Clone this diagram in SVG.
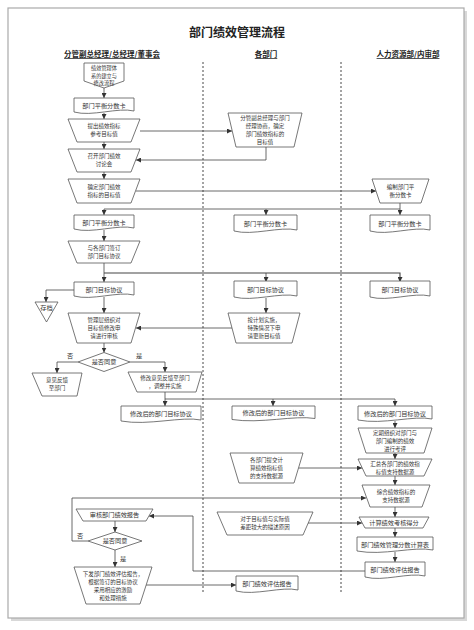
<svg xmlns="http://www.w3.org/2000/svg" width="474" height="630" viewBox="0 0 474 630">
<defs>
<marker id="ah" markerUnits="userSpaceOnUse" markerWidth="5" markerHeight="5" refX="5" refY="2.5" orient="auto"><path d="M0,0 L5,2.5 L0,5 z" fill="#333"/></marker>
</defs>
<style>
.n{fill:#fff;stroke:#555;stroke-width:0.8}
.t{font-family:"Noto Sans CJK SC","Noto Sans",sans-serif;font-size:5.5px;fill:#333;text-anchor:middle}
.s{font-family:"Noto Sans CJK SC","Noto Sans",sans-serif;font-size:6.2px;fill:#333;text-anchor:middle}
.h{font-family:"Noto Sans CJK SC","Noto Sans",sans-serif;font-size:7.5px;font-weight:bold;fill:#222;text-anchor:middle;text-decoration:underline}
.ca{fill:none;stroke:#444;stroke-width:0.8;marker-end:url(#ah)}
.div{stroke:#333;stroke-width:0.9;stroke-dasharray:2,2}
</style>
<rect x="0" y="0" width="474" height="630" fill="#fff"/>
<rect x="11" y="11" width="456" height="610" fill="#d8d8d8"/>
<rect x="8" y="8" width="456" height="610" fill="#fff" stroke="#aaa" stroke-width="1.2"/>
<text x="237" y="37" style="font-family:'Noto Sans CJK SC',sans-serif;font-size:12px;font-weight:bold;fill:#222;text-anchor:middle">部门绩效管理流程</text>
<text class="h" x="112" y="57">分管副总经理/总经理/董事会</text>
<text class="h" x="266" y="57">各部门</text>
<text class="h" x="408" y="57">人力资源部/内审部</text>
<line class="div" x1="203" y1="62" x2="203" y2="592"/>
<line class="div" x1="341" y1="62" x2="341" y2="592"/>

<g id="connectors">
<path class="ca" d="M104,88 V98"/>
<path class="ca" d="M104,113 V119"/>
<path class="ca" d="M140,131 H232"/>
<path class="ca" d="M104,142 V149"/>
<path class="ca" d="M266,147 V160 H136"/>
<path class="ca" d="M104,172 V179"/>
<path class="ca" d="M136,191 H376"/>
<path class="ca" d="M400,203 V215"/>
<path class="ca" d="M400,209 H104 V215"/>
<path class="ca" d="M266,209 V215"/>
<path class="ca" d="M104,230 V241"/>
<path class="ca" d="M104,263 V282"/>
<path class="ca" d="M104,273 H400 V282" style="stroke-width:1.1"/>
<path class="ca" d="M266,273 V282"/>
<path class="ca" d="M74,290 H46 V302"/>
<path class="ca" d="M104,297 V313"/>
<path class="ca" d="M266,298 V313"/>
<path class="ca" d="M232,328 H136"/>
<path class="ca" d="M104,343 V352.5"/>
<path class="ca" d="M78,362 H57 V373"/>
<path class="ca" d="M130,362 H165 V372"/>
<path class="ca" d="M165,392 V406"/>
<path class="ca" d="M165,399 H395 V406"/>
<path class="ca" d="M273,399 V406"/>
<path class="ca" d="M395,421 V428"/>
<path class="ca" d="M395,453 V459"/>
<path class="ca" d="M298.5,468 H362"/>
<path class="ca" d="M395,476 V485"/>
<path class="ca" d="M395,507 V517"/>
<path class="ca" d="M308,523 H362"/>
<path class="ca" d="M395,528 V537"/>
<path class="ca" d="M395,552 V562"/>
<path class="ca" d="M365,571 H193 V516 H149"/>
<path class="ca" d="M115,521 V532"/>
<path class="ca" d="M115,550 V567"/>
<path class="ca" d="M88,541 H72 V498 H366"/>
<path class="ca" d="M146,585 H236"/>
<text class="s" x="70" y="358">否</text>
<text class="s" x="139" y="358">是</text>
<text class="s" x="80" y="538">否</text>
<text class="s" x="123" y="561">是</text>
</g>

<g id="n1"><path class="n" d="M84,63 H124 V81 L104,88 L84,81 Z"/><text class="t" style="font-size:5.2px"><tspan x="104" y="70">绩效管理体</tspan><tspan x="104" y="77.5">系的建立与</tspan><tspan x="104" y="85">修改流程</tspan></text></g>
<g id="n2"><path class="n" d="M74,98 H134 V111 C118,107 92,117 74,112 Z"/><text class="s" x="104" y="107.5">部门平衡分数卡</text></g>
<g id="n3"><path class="n" d="M68,119 H140 L131,142 H77 Z"/><text class="t"><tspan x="104" y="128">提出绩效指标</tspan><tspan x="104" y="136">参考目标值</tspan></text></g>
<g id="n4"><path class="n" d="M68,149 H140 L131,172 H77 Z"/><text class="t"><tspan x="104" y="158">召开部门绩效</tspan><tspan x="104" y="166">讨论会</tspan></text></g>
<g id="n5"><path class="n" d="M68,179 H140 L131,203 H77 Z"/><text class="t"><tspan x="104" y="188.5">确定部门绩效</tspan><tspan x="104" y="196.5">指标的目标值</tspan></text></g>
<g id="n6"><path class="n" d="M74,215 H134 V228 C118,224 92,234 74,229 Z"/><text class="s" x="104" y="224.5">部门平衡分数卡</text></g>
<g id="n7"><path class="n" d="M68,241 H140 L131,263 H77 Z"/><text class="t"><tspan x="104" y="249.5">与各部门签订</tspan><tspan x="104" y="257.5">部门目标协议</tspan></text></g>
<g id="n8"><path class="n" d="M74,282 H134 V295 C118,291 92,301 74,296 Z"/><text class="s" x="104" y="291.5">部门目标协议</text></g>
<g id="n9"><path class="n" d="M35,302 H58 L46.5,322 Z"/><text class="s" x="46.5" y="310">存档</text></g>
<g id="n10"><path class="n" d="M68,313 H140 L131,343 H77 Z"/><text class="t"><tspan x="104" y="322">管理层组织对</tspan><tspan x="104" y="330">目标值修改申</tspan><tspan x="104" y="338">请进行审核</tspan></text></g>
<g id="n11"><path class="n" d="M78,362 L104,352.5 L130,362 L104,371.5 Z"/><text class="s" x="104" y="364.2">是否同意</text></g>
<g id="n12"><path class="n" d="M32,373 H82 L77,396 H42 Z"/><text class="t"><tspan x="57" y="382">意见反馈</tspan><tspan x="57" y="390">至部门</tspan></text></g>
<g id="n13"><path class="n" d="M128,372 H202 L196,392 H137 Z"/><text class="t"><tspan x="165" y="379.5">修改意见反馈至部门</tspan><tspan x="165" y="387.5">，调整并实施</tspan></text></g>
<g id="n14"><path class="n" d="M121,406 H201 V420 C182,416 148,426 121,421 Z"/><text class="s" x="161" y="415.5">修改后的部门目标协议</text></g>

<g id="nA"><path class="n" d="M228,113 H302 L294,147 H236 Z"/><text class="t"><tspan x="265" y="120">分管副总经理与部门</tspan><tspan x="265" y="128">经理协商，确定</tspan><tspan x="265" y="136">部门绩效指标的</tspan><tspan x="265" y="144">目标值</tspan></text></g>
<g id="nB"><path class="n" d="M234,215 H297 V230 C280,226 253,236 234,231 Z"/><text class="s" x="265.5" y="225.5">部门平衡分数卡</text></g>
<g id="nC"><path class="n" d="M234,281 H297 V296 C280,292 253,302 234,297 Z"/><text class="s" x="265.5" y="291.5">部门目标协议</text></g>
<g id="nD"><path class="n" d="M228,313 H300 L292,343 H236 Z"/><text class="t"><tspan x="264" y="322">按计划实施，</tspan><tspan x="264" y="330">特殊情况下申</tspan><tspan x="264" y="338">请更新目标值</tspan></text></g>
<g id="nE"><path class="n" d="M232,406 H315 V418.5 C295,415 260,424 232,419.5 Z"/><text class="s" x="273.5" y="415">修改后的部门目标协议</text></g>
<g id="nF"><path class="n" d="M230,453 H303 L294,483 H239 Z"/><text class="t"><tspan x="266.5" y="462">各部门提交计</tspan><tspan x="266.5" y="470">算绩效指标值</tspan><tspan x="266.5" y="478">的支持数据源</tspan></text></g>
<g id="nG"><path class="n" d="M217,512 H313 L303,535 H227 Z"/><text class="t"><tspan x="265" y="521">对于目标值与实际值</tspan><tspan x="265" y="529">差距较大的描述原因</tspan></text></g>
<g id="nH"><path class="n" d="M236,576 H298 V590 C282,586 255,596 236,591 Z"/><text class="s" x="267" y="586">部门绩效评估报告</text></g>

<g id="nI"><path class="n" d="M372,179 H429 L421,203 H380 Z"/><text class="t"><tspan x="400.5" y="188.5">编制部门平</tspan><tspan x="400.5" y="196.5">衡分数卡</tspan></text></g>
<g id="nJ"><path class="n" d="M370,215 H430 V230 C414,226 388,236 370,231 Z"/><text class="s" x="400" y="225.5">部门平衡分数卡</text></g>
<g id="nK"><path class="n" d="M370,281 H430 V296 C414,292 388,302 370,297 Z"/><text class="s" x="400" y="291.5">部门目标协议</text></g>
<g id="nL"><path class="n" d="M358,406 H432 V419 C414,415 383,425 358,420 Z"/><text class="s" x="395" y="415.5">修改后的部门目标协议</text></g>
<g id="nM"><path class="n" d="M358,428 H432 L424,453 H366 Z"/><text class="t"><tspan x="395" y="434.5">定期组织对部门与</tspan><tspan x="395" y="442.5">部门编制的绩效</tspan><tspan x="395" y="450.5">进行考评</tspan></text></g>
<g id="nN"><path class="n" d="M358,459 H432 L424,476 H366 Z"/><text class="t"><tspan x="395" y="465.5">汇总各部门的绩效指</tspan><tspan x="395" y="473.5">标值支持数据源</tspan></text></g>
<g id="nO"><path class="n" d="M362,485 H430 L422,507 H370 Z"/><text class="t"><tspan x="396" y="493.5">综合绩效指标的</tspan><tspan x="396" y="501.5">支持数据源</tspan></text></g>
<g id="nP"><path class="n" d="M359,517 H429 L423,528 H365 Z"/><text class="s" x="394" y="524.7">计算绩效考核得分</text></g>
<g id="nQ"><path class="n" d="M357,537 H433 V550 C414,546 383,556 357,551 Z"/><text class="s" x="395" y="546.5">部门绩效管理分数计算表</text></g>
<g id="nR"><path class="n" d="M365,562 H425 V576 C409,572 383,582 365,577 Z"/><text class="s" x="395" y="572">部门绩效评估报告</text></g>

<g id="nS"><path class="n" d="M76,509 H153 L146,521 H83 Z"/><text class="s" x="114.5" y="517.2">审核部门绩效报告</text></g>
<g id="nT"><path class="n" d="M88,541 L115,532 L142,541 L115,550 Z"/><text class="s" x="115" y="543.2">是否同意</text></g>
<g id="nU"><path class="n" d="M74,567 H152 L140,604 H86 Z"/><text class="t"><tspan x="113" y="575.5">下发部门绩效评估报告，</tspan><tspan x="113" y="583.5">根据签订的目标协议</tspan><tspan x="113" y="591.5">采用相应的激励</tspan><tspan x="113" y="599.5">和处理措施</tspan></text></g>
</svg>
